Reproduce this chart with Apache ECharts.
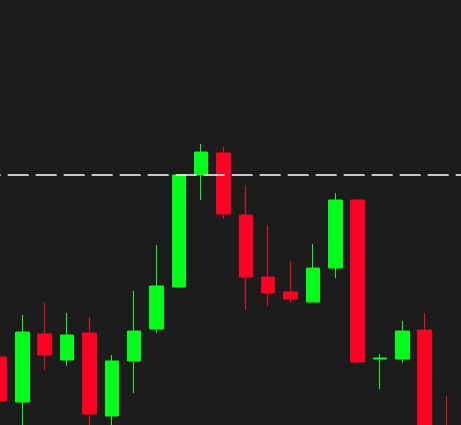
<!DOCTYPE html>
<html>
<head>
<meta charset="utf-8">
<script src="https://cdn.jsdelivr.net/npm/echarts@6/dist/echarts.min.js"></script>
<style>
html,body{margin:0;padding:0;background:#1c1c1c;}
#chart{width:461px;height:425px;}
</style>
</head>
<body>
<div id="chart"></div>
<script>
const positions = [0, 1, 2, 3, 4, 5, 6, 7, 8, 9, 10, 11, 12, 13, 14, 15, 16, 17, 18, 19, 20];
const opens  = [68, 23, 91, 65, 92,  9, 64,  96, 138, 250, 272, 210, 148, 133, 123, 157, 225, 66, 66,  95, -20];
const closes = [24, 93, 70, 90, 11, 64, 94, 139, 250, 273, 211, 148, 132, 126, 157, 225,  63, 67, 94, -40, -60];
const lows   = [24, -15, 55, 59, -10, -3, 32, 92, 138, 225, 206, 115, 119, 122, 123, 147, 62, 36, 62, -60, -80];
const highs  = [68, 110, 122, 112, 108, 70, 134, 180, 251, 281, 278, 240, 200, 164, 181, 232, 225, 71, 104, 112, 29];
const referenceLevel = 250;

const candleData = positions.map((p, i) => [p, opens[i], closes[i], lows[i], highs[i]]);

const chart = echarts.init(document.getElementById('chart'), null, {renderer: 'canvas'});
chart.setOption({
  backgroundColor: '#1c1c1c',
  animation: false,
  grid: {left: 0, right: 0, top: 0, bottom: 0},
  xAxis: {type: 'value', min: 0, max: 461 / 22.35, show: false, splitLine: {show: false}},
  yAxis: {type: 'value', min: 0, max: 425, show: false, splitLine: {show: false}},
  series: [{
    type: 'candlestick',
    data: candleData,
    encode: {x: 0, y: [1, 2, 3, 4]},
    barWidth: 14,
    clip: true,
    itemStyle: {
      color: '#00ff1a', color0: '#ff0022',
      borderColor: '#00ff1a', borderColor0: '#ff0022',
      borderWidth: 1
    },
    markLine: {
      silent: true,
      symbol: 'none',
      label: {show: false},
      lineStyle: {color: '#ffffff', width: 1.5, type: [21, 7], dashOffset: 20.3, opacity: 1},
      data: [{yAxis: referenceLevel}]
    }
  }]
});
</script>
</body>
</html>
